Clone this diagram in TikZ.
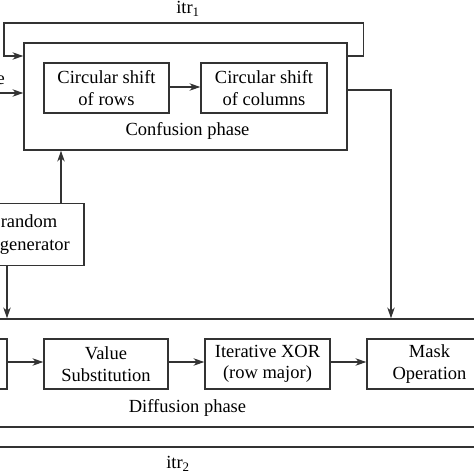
\documentclass[tikz,border=0pt]{standalone}
\usepackage{fontspec}
\setmainfont{Liberation Serif}
\usetikzlibrary{arrows.meta}
\begin{document}
\begin{tikzpicture}[x=1pt,y=-1pt,
  every node/.style={font=\fontsize{18.5}{21.5}\selectfont, text=black},
  box/.style={draw=black!80, line width=1.3pt, rectangle, inner sep=0pt, align=center},
  lbl/.style={inner sep=0pt, text height=13pt, text depth=4pt},
  conn/.style={draw=black!80, line width=1.2pt},
  arr/.style={conn, -{Stealth[length=11pt,width=7.5pt]}}]
\useasboundingbox (0,0) rectangle (474,474);
% confusion phase
\node[box, minimum width=323pt, minimum height=107pt] (conf) at (185.5,96.5) {};
\node[box, minimum width=125pt, minimum height=50pt] (rows) at (106.5,88) {Circular shift\\of rows};
\node[box, minimum width=126pt, minimum height=50pt] (cols) at (264,88) {Circular shift\\of columns};
\node[lbl] (conftxt) at (187.5,131) {Confusion phase};
\draw[arr] (rows.east |- 0,87) -- (cols.west |- 0,87);
% iteration 1 loop
\coordinate (l1a) at (363.5,23);
\coordinate (l1b) at (4,23);
\draw[arr] (conf.east |- 0,56) -- (l1a |- 0,56) -- (l1a) -- (l1b) -- (l1b |- 0,56) -- (conf.west |- 0,56);
\node[lbl] (itr1) at (188,9) {itr\textsubscript{1}};
% input
\node[lbl, anchor=east] (intxt) at (5,80) {e};
\coordinate (in) at (-5,93);
\draw[arr] (in) -- (conf.west |- in);
% random generator
\node[box, minimum width=124pt, minimum height=62pt] (rand) at (22,234.5) {};
\node[lbl, anchor=east] (r1) at (57.5,223) {random};
\node[lbl, anchor=east] (r2) at (70,246) {generator};
% diffusion phase
\node[box, minimum width=514pt, minimum height=108pt] (diff) at (237,373) {};
\node[box, minimum width=67pt, minimum height=50pt] (prev) at (-26.5,364) {};
\node[box, minimum width=124pt, minimum height=50pt] (val) at (106,364) {Value\\Substitution};
\node[box, minimum width=125pt, minimum height=50pt] (xor) at (267.5,364) {Iterative XOR\\(row major)};
\node[box, minimum width=125pt, minimum height=50pt] (mask) at (429.5,364) {Mask\\Operation};
\node[lbl] (difftxt) at (187.5,408) {Diffusion phase};
\draw[arr] (prev.east |- 0,362) -- (val.west |- 0,362);
\draw[arr] (val.east |- 0,362) -- (xor.west |- 0,362);
\draw[arr] (xor.east |- 0,362) -- (mask.west |- 0,362);
% connections
\draw[arr] (rand.north -| 61,0) -- (conf.south -| 61,0);
\draw[arr] (rand.south -| 7,0) -- (diff.north -| 7,0);
\coordinate (rt) at (391,90);
\draw[arr] (conf.east |- rt) -- (rt) -- (diff.north -| rt);
% iteration 2 loop
\coordinate (l2a) at (-5,447);
\coordinate (l2b) at (479,447);
\draw[conn] (l2a) -- (l2b);
\node[lbl] (itr2) at (178,464) {itr\textsubscript{2}};
\end{tikzpicture}
\end{document}
